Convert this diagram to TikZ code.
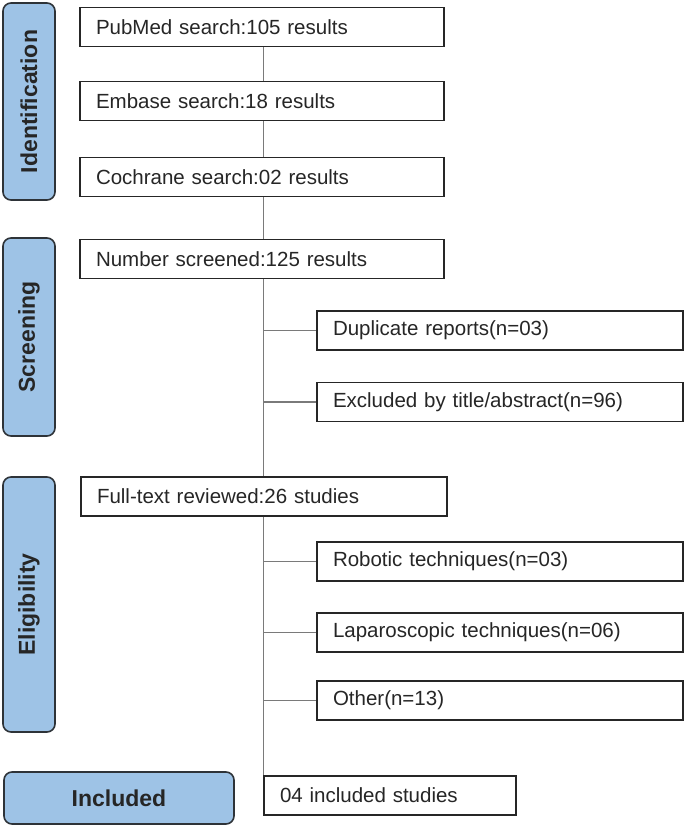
\documentclass[tikz,border=0pt]{standalone}
\usepackage{fontspec}
\setmainfont{Liberation Sans}
\usepackage{tikz}
\usetikzlibrary{positioning, arrows.meta}
\definecolor{StageBlue}{HTML}{9EC3E6}
\definecolor{StageLine}{HTML}{2E3338}
\definecolor{BoxLine}{HTML}{262626}
\definecolor{LinkGray}{HTML}{7A7A7A}
\tikzset{
  stagebox/.style={draw=StageLine, line width=1.6pt, fill=StageBlue, rounded corners=8pt,
    minimum height=52pt, inner sep=0pt, align=center,
    font=\fontsize{23}{27}\selectfont\bfseries, text=black!85},
  recbox/.style={draw=BoxLine, line width=1.6pt, fill=white, minimum height=39pt,
    inner xsep=16pt, inner ysep=0pt, align=left,
    font=\fontsize{20.5}{24}\selectfont, text=black!85},
  mainbox/.style={recbox, text width=332pt},
  sidebox/.style={recbox, text width=334pt},
  link/.style={draw=LinkGray, line width=1.3pt},
}

\begin{document}
\begin{tikzpicture}[x=1pt, y=-1pt]
  \useasboundingbox (0,0) rectangle (685,827);
  % stages
  \node[stagebox, rotate=90, minimum width=197pt] (sid) at (29,101.5) {Identification};
  \node[stagebox, rotate=90, minimum width=198pt] (ssc) at (29,337) {Screening};
  \node[stagebox, rotate=90, minimum width=255pt] (sel) at (29,604.5) {Eligibility};
  \node[stagebox, minimum width=230pt] (sin) at (119,798) {Included};
  % records
  \node[mainbox] (pub) at (262,27) {PubMed search:105 results};
  \node[mainbox] (emb) at (262,101) {Embase search:18 results};
  \node[mainbox] (coc) at (262,177) {Cochrane search:02 results};
  \node[mainbox] (scr) at (262,259) {Number screened:125 results};
  \node[mainbox, text width=334pt] (ful) at (264,496.5) {Full-text reviewed:26 studies};
  \node[sidebox] (dup) at (500,330.5) {Duplicate reports(n=03)};
  \node[sidebox] (exc) at (500,402) {Excluded by title/abstract(n=96)};
  \node[sidebox] (rob) at (500,561.5) {Robotic techniques(n=03)};
  \node[sidebox] (lap) at (500,632.5) {Laparoscopic techniques(n=06)};
  \node[sidebox] (oth) at (500,700.5) {Other(n=13)};
  \node[recbox, text width=220pt] (inc) at (390,795.5) {04 included studies};
  % spine
  \foreach \a/\b in {pub/emb, emb/coc, coc/scr, scr/ful, ful/inc}
    \draw[link] (\a.south -| inc.west) -- (\b.north -| inc.west);
  % branches
  \foreach \n in {dup, exc, rob, lap, oth}
    \draw[link] (\n.west -| inc.west) -- (\n.west);
\end{tikzpicture}
\end{document}
